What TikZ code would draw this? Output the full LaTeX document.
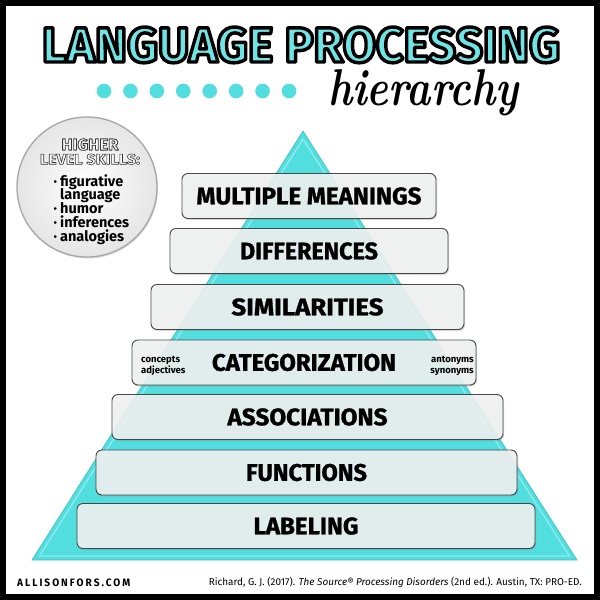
\documentclass[tikz,border=0pt]{standalone}
\usepackage{fontspec}
\newfontfamily\fira{Fira Sans}
\usetikzlibrary{shadows}
\definecolor{tealA}{RGB}{82,221,222}
\definecolor{tealEdge}{RGB}{58,192,195}
\definecolor{tealHi}{RGB}{140,235,236}
\definecolor{boxFill}{RGB}{243,244,244}
\definecolor{boxLine}{RGB}{70,70,70}
\newcommand{\lbl}[2]{\resizebox{#1}{17pt}{\fira\bfseries\addfontfeature{FakeBold=1.2}#2}}
% outlined text: #1 stroke width, #2 stroke rgb, #3 fill rgb, #4 text
\newcommand{\outl}[4]{\special{pdf:literal direct 2 Tr #1 w 1 j #2 RG #3 rg}#4\special{pdf:literal direct 0 Tr 0.4 w 0 j 0 0 0 RG 0 0 0 rg}}
\tikzset{
  tier/.style={draw=boxLine, line width=0.9pt, fill=boxFill, fill opacity=0.88,
    text opacity=1, rounded corners=6pt, minimum height=45pt, inner sep=0pt,
    drop shadow={opacity=0.3, shadow xshift=1pt, shadow yshift=-1.5pt}},
  side/.style={font=\fira\bfseries\fontsize{9.5}{11}\selectfont, inner sep=0pt},
  item/.style={anchor=base west, inner sep=0pt, font=\fira\bfseries\fontsize{14.5}{14}\selectfont},
  dot/.style={fill=tealA}
}
\begin{document}
\begin{tikzpicture}[x=1pt,y=-1pt]
\useasboundingbox (0,0) rectangle (600,600);
\fill[black] (0,0) rectangle (600,600);
\fill[white] (6,6) rectangle (594,594);

% title
\node[anchor=base, inner sep=0pt] (title) at (301,62)
  {\resizebox{518pt}{35pt}{\fira\bfseries\outl{0.7}{0 0 0}{0.44 0.894 0.894}{LANGUAGE PROCESSING}}};
\node[anchor=base west, inner sep=0pt] (hier) at (328,105)
  {\resizebox{190pt}{36pt}{\bfseries\itshape hierarchy}};
\foreach \i in {0,...,7}
  \fill[dot] (104+\i*26.43,91) circle (7.3pt);

% pyramid
\fill[tealA, draw=tealEdge, line width=0.6pt] (303,131) -- (577,560) -- (32,560) -- cycle;
\draw[tealHi, line width=1.4pt, line join=round] (303,139) -- (569.5,556) -- (39.5,556) -- cycle;

% tiers
\node[tier, minimum width=254pt] (mm) at (309,196) {\lbl{225pt}{MULTIPLE MEANINGS}};
\node[tier, minimum width=278pt] (diff) at (309,251) {\lbl{138pt}{DIFFERENCES}};
\node[tier, minimum width=313pt] (sim) at (307.5,307) {\lbl{152pt}{SIMILARITIES}};
\node[tier, minimum width=344pt] (cat) at (304,362.5) {\lbl{184pt}{CATEGORIZATION}};
\node[tier, minimum width=391pt] (assoc) at (307.5,417) {\lbl{160pt}{ASSOCIATIONS}};
\node[tier, minimum width=421pt] (func) at (306.5,472.5) {\lbl{121pt}{FUNCTIONS}};
\node[tier, minimum width=458pt] (lab) at (306,526) {\lbl{105pt}{LABELING}};

\node[side, anchor=west, align=left] (catl) at (141,365.5) {concepts\\adjectives};
\node[side, anchor=east, align=right] (catr) at (474,365.5) {antonyms\\synonyms};

% skills circle
\node[circle, minimum size=140pt, draw=black!35, line width=1.3pt,
  inner color=white, outer color=black!10,
  drop shadow={opacity=0.25, shadow xshift=1pt, shadow yshift=-1.5pt}] (skills) at (87,187) {};
\node[inner sep=0pt] (hl1) at (90,144.5)
  {\resizebox{57pt}{11.5pt}{\fira\bfseries\outl{0.5}{0.2 0.2 0.2}{1 1 1}{HIGHER}}};
\node[inner sep=0pt] (hl2) at (90,159.2)
  {\resizebox{100pt}{10.3pt}{\fira\bfseries\outl{0.4}{0.2 0.2 0.2}{1 1 1}{LEVEL SKILLS:}}};
\node[item] (i1) at (60,186) {\llap{·\hspace{3pt}}figurative};
\node[item] (i2) at (60,199.8) {language};
\node[item] (i3) at (60,213.6) {\llap{·\hspace{3pt}}humor};
\node[item] (i4) at (60,227.4) {\llap{·\hspace{3pt}}inferences};
\node[item] (i5) at (60,241.2) {\llap{·\hspace{3pt}}analogies};

% footer
\node[anchor=base west, inner sep=0pt] (site) at (17,586)
  {\resizebox{113pt}{7.6pt}{\fira\bfseries\addfontfeature{LetterSpace=20}ALLISONFORS.COM}};
\node[anchor=base east, inner sep=0pt] (cite) at (582,585)
  {\resizebox{373pt}{!}{\fira\fontsize{10}{12}\selectfont Richard, G. J. (2017). \textit{The Source® Processing Disorders} (2nd ed.). Austin, TX: PRO-ED.}};
\end{tikzpicture}
\end{document}
